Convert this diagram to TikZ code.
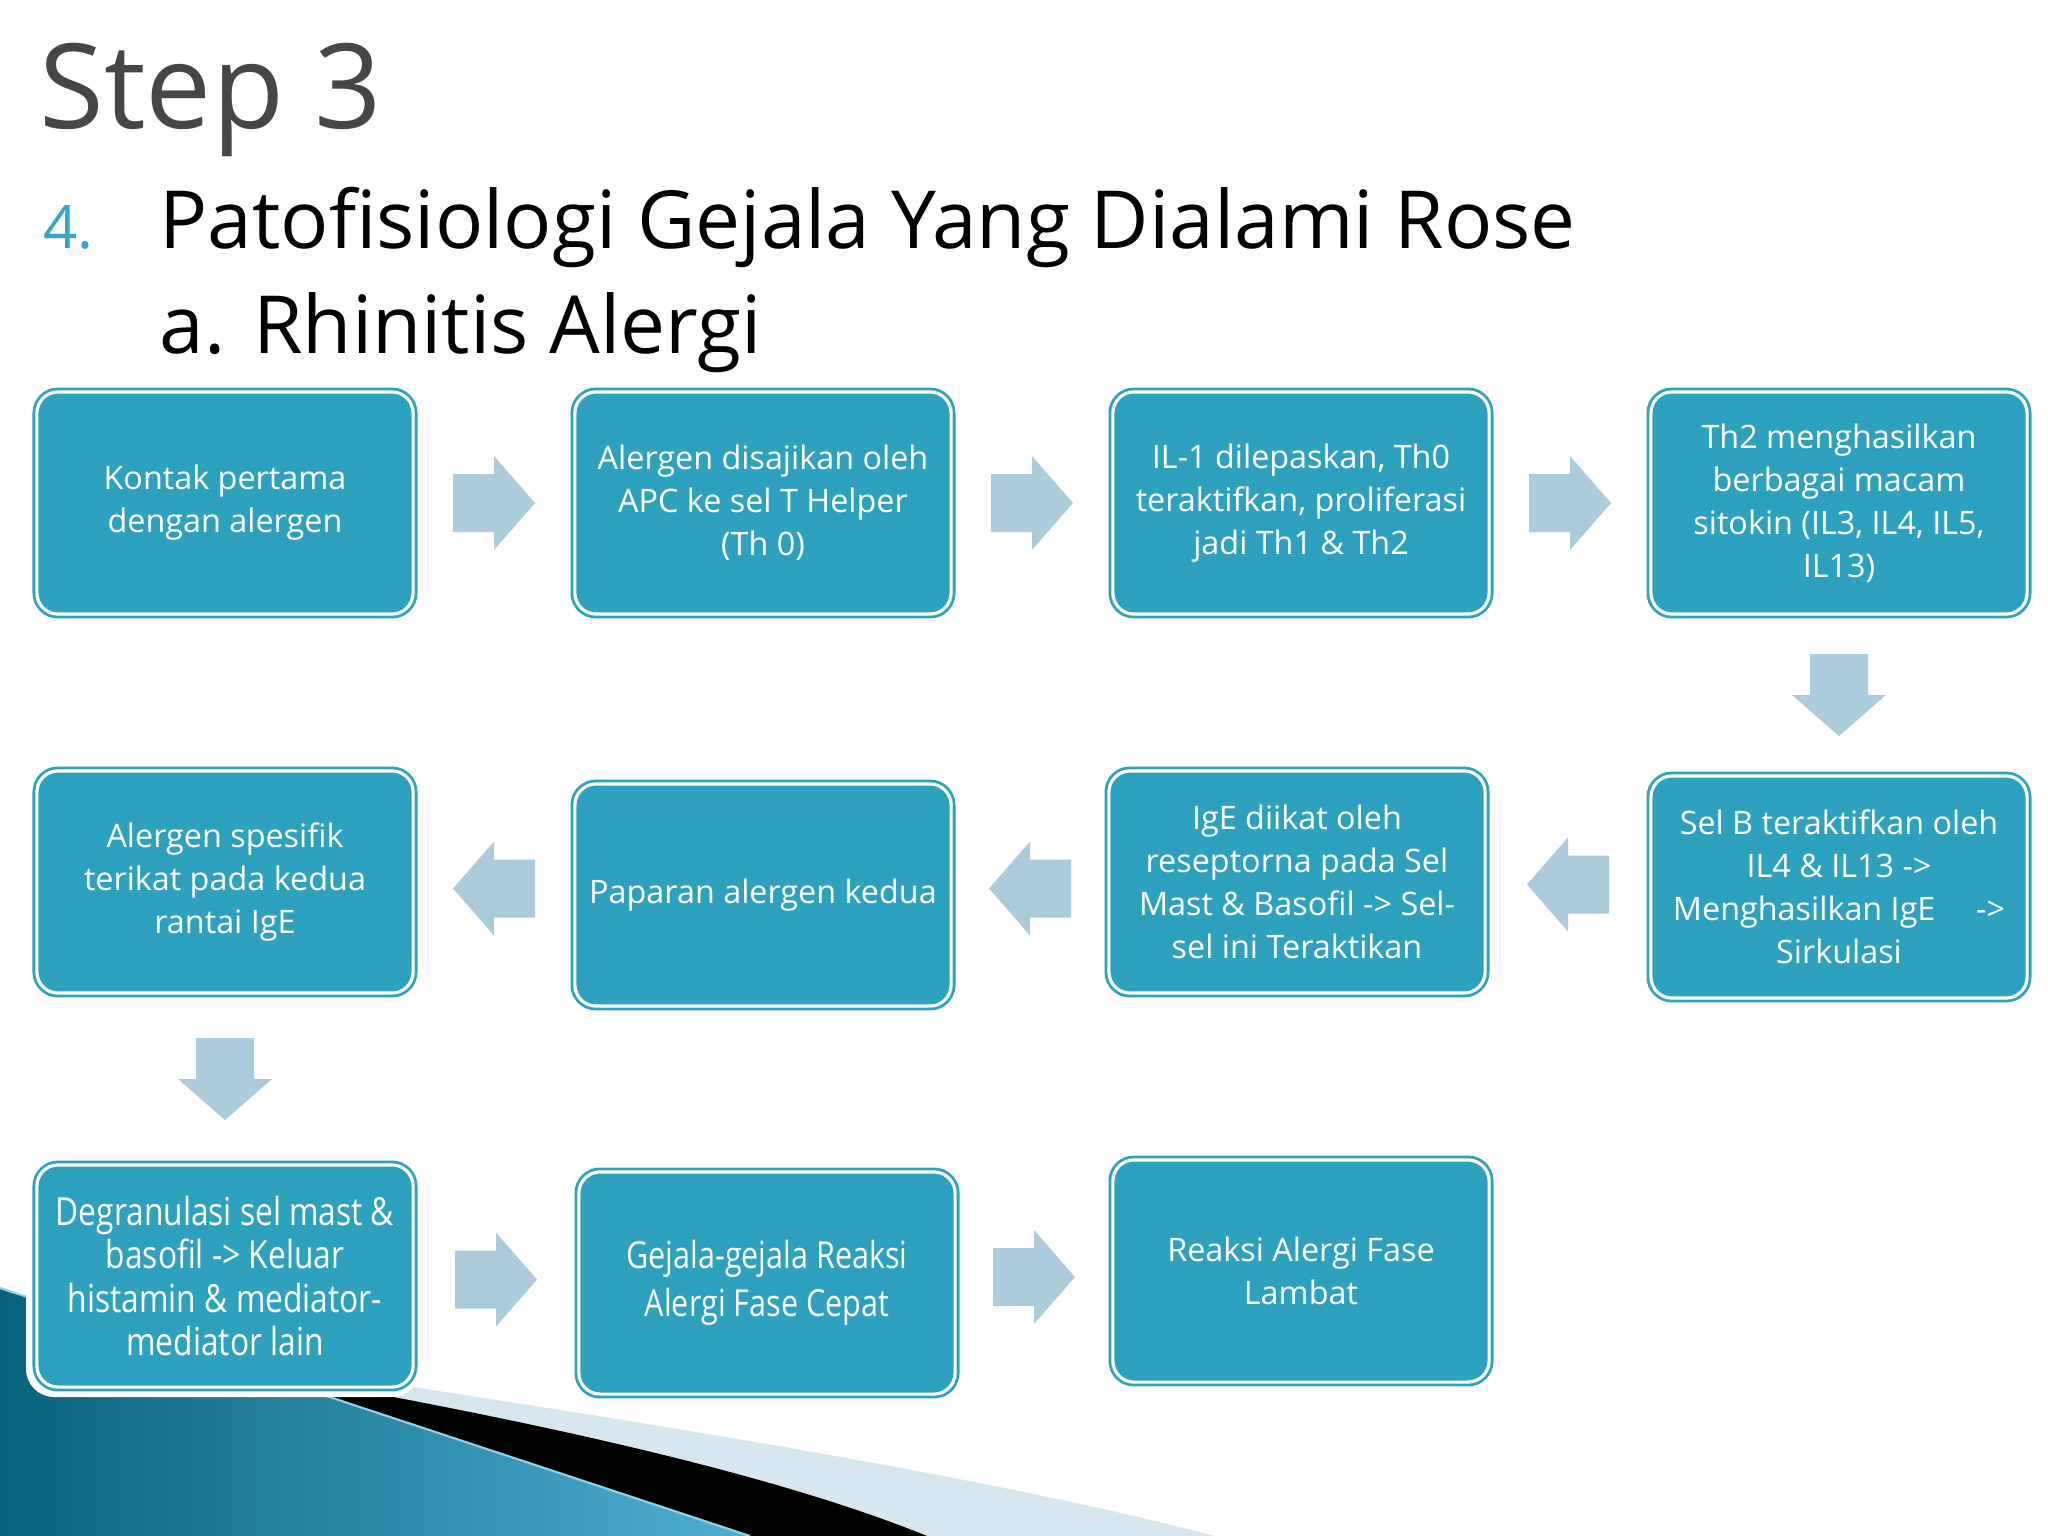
\documentclass[tikz,border=0pt]{standalone}
\usepackage{fontspec}
\setmainfont{Open Sans}
\newfontfamily\narrowfont[FakeStretch=0.82]{Open Sans}
\usetikzlibrary{positioning,calc}

\definecolor{boxteal}{RGB}{46,161,191}
\definecolor{arrowgray}{RGB}{172,203,219}
\definecolor{titlegray}{RGB}{70,70,70}
\definecolor{numteal}{RGB}{53,166,199}
\definecolor{decodark}{RGB}{8,98,126}
\definecolor{decolight}{RGB}{78,176,210}
\definecolor{bandblue}{RGB}{214,231,240}

\tikzset{
  flowbox/.style={draw=boxteal, double=white, double distance=0.9pt, line width=0.8pt,
    fill=boxteal, rounded corners=6pt, minimum width=3.76cm, minimum height=2.22cm,
    text=white, align=center, inner sep=2pt, font=\fontsize{9.2}{12.2}\selectfont},
  narrowbox/.style={flowbox, font=\narrowfont\fontsize{10.6}{13.6}\selectfont},
  heading/.style={anchor=base west, inner sep=0pt}
}
% block arrow halfway between two boxes, #3 = direction
\newcommand{\fatarrow}[3]{%
  \fill[arrowgray, shift={($(#1)!0.5!(#2)$)}, rotate=#3]
    (-41,-29) -- (0,-29) -- (0,-47) -- (41,0) -- (0,47) -- (0,29) -- (-41,29) -- cycle;}

\begin{document}
\begin{tikzpicture}[x=0.01cm, y=-0.01cm]
  \fill[white] (0,0) rectangle (2048,1536);
  \useasboundingbox (0,0) rectangle (2048,1536);

  % corner decoration
  \fill[bandblue] (300,1370) .. controls (700,1430) and (1000,1480) .. (1215,1536) -- (300,1536) -- cycle;
  \fill[black] (270,1375) -- (340,1387) .. controls (530,1422) and (770,1472) .. (927,1536) -- (270,1536) -- cycle;
  \shade[left color=decodark, right color=decolight] (0,1288) -- (750,1536) -- (0,1536) -- cycle;
  \draw[decolight!60!white, line width=0.6pt] (0,1288) -- (750,1536);
  \fill[white, rounded corners=8pt] (26,1150) rectangle (420,1397);

  \node[heading, text=titlegray, font=\fontsize{33.5}{40}\selectfont] (step) at (39,128) {Step 3};
  \node[heading, text=numteal, font=\fontsize{17}{20}\selectfont] (nomor) at (43,248) {4.};
  \node[heading, font=\fontsize{22.8}{27}\selectfont] (judul) at (159,248) {Patofisiologi Gejala Yang Dialami Rose};
  \node[heading, font=\fontsize{22.8}{27}\selectfont] (subjudul) at (159,353) {a. Rhinitis Alergi};

  \node[flowbox] (kontak) at (225,503) {Kontak pertama\\dengan alergen};
  \node[flowbox] (apc) at (763,503) {Alergen disajikan oleh\\APC ke sel T Helper\\(Th 0)};
  \node[flowbox] (ilsatu) at (1301,503) {IL-1 dilepaskan, Th0\\teraktifkan, proliferasi\\jadi Th1 \& Th2};
  \node[flowbox] (thdua) at (1839,503) {Th2 menghasilkan\\berbagai macam\\sitokin (IL3, IL4, IL5,\\IL13)};
  \node[flowbox] (selb) at (1839,887) {Sel B teraktifkan oleh\\IL4 \& IL13 ->\\Menghasilkan IgE\hspace{1em} ->\\Sirkulasi};
  \node[flowbox] (ige) at (1297,882) {IgE diikat oleh\\reseptorna pada Sel\\Mast \& Basofil -> Sel-\\sel ini Teraktikan};
  \node[flowbox] (paparan) at (763,895) {Paparan alergen kedua};
  \node[flowbox] (spesifik) at (225,882) {Alergen spesifik\\terikat pada kedua\\rantai IgE};
  \node[narrowbox, font=\narrowfont\fontsize{11}{12.4}\selectfont] (degran) at (225,1276) {Degranulasi sel mast \&\\basofil -> Keluar\\histamin \& mediator-\\mediator lain};
  \node[narrowbox] (cepat) at (767,1283) {Gejala-gejala Reaksi\\Alergi Fase Cepat};
  \node[flowbox] (lambat) at (1301,1271) {Reaksi Alergi Fase\\Lambat};

  \fatarrow{kontak.east}{apc.west}{0}
  \fatarrow{apc.east}{ilsatu.west}{0}
  \fatarrow{ilsatu.east}{thdua.west}{0}
  \fatarrow{thdua.south}{selb.north}{-90}
  \fatarrow{selb.west}{ige.east}{180}
  \fatarrow{ige.west}{paparan.east}{180}
  \fatarrow{paparan.west}{spesifik.east}{180}
  \fatarrow{spesifik.south}{degran.north}{-90}
  \fatarrow{degran.east}{cepat.west}{0}
  \fatarrow{cepat.east}{lambat.west}{0}
\end{tikzpicture}
\end{document}
